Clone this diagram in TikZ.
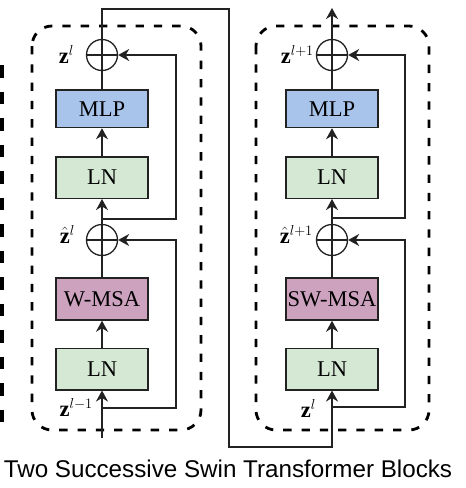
\documentclass[tikz,border=0pt]{standalone}
\usepackage{fontspec}
\setmainfont{Liberation Serif}
\newfontfamily\capfont{Liberation Sans}
\usetikzlibrary{arrows.meta}
\definecolor{mlpblue}{HTML}{A9C4EB}
\definecolor{lngreen}{HTML}{D5E8D4}
\definecolor{msapurple}{HTML}{CDA2BE}
\definecolor{edge}{HTML}{222222}
\begin{document}
\begin{tikzpicture}[x=1pt,y=-1pt,
  blk/.style={draw=edge, line width=1.5pt, minimum width=92pt, inner sep=0pt, font=\fontsize{22.5}{26}\selectfont},
  mlp/.style={blk, fill=mlpblue, minimum height=37.5pt},
  ln/.style={blk, fill=lngreen, minimum height=41.5pt},
  msa/.style={blk, fill=msapurple, minimum height=42pt},
  plus/.style={draw=edge, circle, line width=1.3pt, minimum size=31pt, inner sep=0pt,
    path picture={\draw[line width=1.3pt,edge] (path picture bounding box.north) -- (path picture bounding box.south) (path picture bounding box.west) -- (path picture bounding box.east);}},
  wire/.style={line width=1.4pt, draw=edge},
  arr/.style={wire, -{Stealth[length=11pt,width=12pt,inset=3.5pt]}},
  lab/.style={anchor=base east, inner sep=0pt, font=\fontsize{22.5}{26}\selectfont},
  grp/.style={line width=2.8pt, dash pattern=on 8.3pt off 10pt, rounded corners=20pt},
]
\useasboundingbox (0,0) rectangle (466,488);

% far-left cut edge
\draw[line width=4pt, dash pattern=on 12.5pt off 14pt] (1.5,65) -- (1.5,433);

% group frames
\draw[grp] (32,26) rectangle (201,430);
\draw[grp] (256,26) rectangle (429,430);

% left block
\node[ln]  (lnA)  at (102,369) {LN};
\node[msa] (msaA) at (102,299) {W-MSA};
\node[plus] (pA2) at (102,240) {};
\node[ln]  (lnB)  at (102,177.5) {LN};
\node[mlp] (mlpA) at (102,108.75) {MLP};
\node[plus] (pA1) at (102,55) {};

% right block
\node[ln]  (lnC)  at (332,369) {LN};
\node[msa] (msaB) at (332,299) {SW-MSA};
\node[plus] (pB2) at (332,240) {};
\node[ln]  (lnD)  at (332,177.5) {LN};
\node[mlp] (mlpB) at (332,108.75) {MLP};
\node[plus] (pB1) at (332,55) {};

% coordinates
\coordinate (inA) at (102,438);
\coordinate (brA1) at (102,408);
\coordinate (brA2) at (102,219);
\coordinate (brB1) at (332,407);
\coordinate (brB2) at (332,218);
\coordinate (outB) at (332,8);

% left wiring
\draw[arr] (inA) -- (lnA.south);
\draw[arr] (lnA) -- (msaA);
\draw[wire] (msaA) -- (pA2);
\draw[arr] (pA2) -- (lnB);
\draw[arr] (lnB) -- (mlpA);
\draw[wire] (mlpA) -- (pA1);
\draw[arr] (brA1) -- (176,408) |- (pA2.east);
\draw[arr] (brA2) -- (176,219) |- (pA1.east);

% between blocks
\draw[arr] (pA1.north) |- (229,9) -- (229,447) -| (lnC.south);

% right wiring
\draw[arr] (lnC) -- (msaB);
\draw[wire] (msaB) -- (pB2);
\draw[arr] (pB2) -- (lnD);
\draw[arr] (lnD) -- (mlpB);
\draw[wire] (mlpB) -- (pB1);
\draw[arr] (brB1) -- (405,407) |- (pB2.east);
\draw[arr] (brB2) -- (405,218) |- (pB1.east);
\draw[arr] (pB1.north) -- (outB);

% labels
\node[lab] (lzA1) at (74,63) {$\mathbf{z}^{l}$};
\node[lab] (lzA2) at (75,243) {$\hat{\mathbf{z}}^{l}$};
\node[lab] (lzA0) at (93,416) {$\mathbf{z}^{l-1}$};
\node[lab] (lzB1) at (314,63) {$\mathbf{z}^{l+1}$};
\node[lab] (lzB2) at (313,243) {$\hat{\mathbf{z}}^{l+1}$};
\node[lab] (lzB0) at (316,417) {$\mathbf{z}^{l}$};

% caption
\node[anchor=base, inner sep=0pt, font=\capfont\fontsize{24.2}{28}\selectfont] (cap) at (228,477) {Two Successive Swin Transformer Blocks};
\end{tikzpicture}
\end{document}
